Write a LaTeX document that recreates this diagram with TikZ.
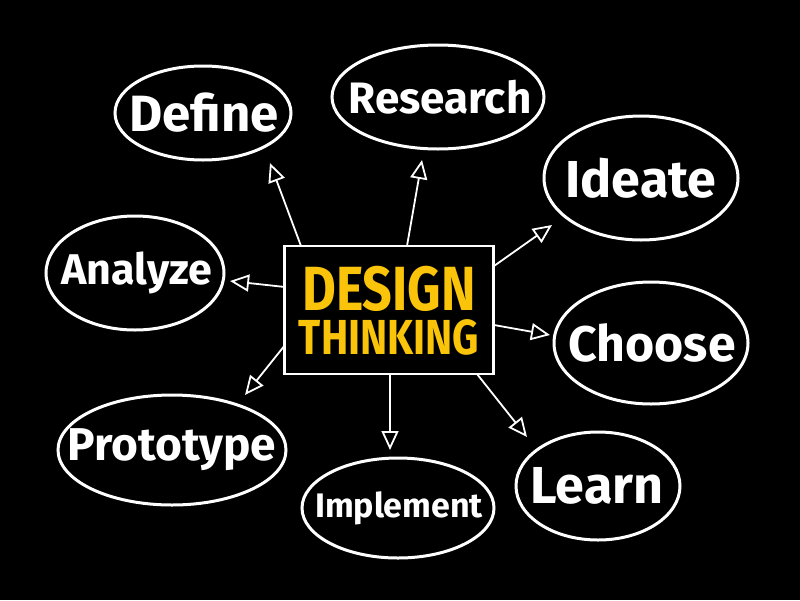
\documentclass[tikz,border=0pt]{standalone}
\usepackage{fontspec}
\setmainfont{Fira Sans}
\usetikzlibrary{arrows.meta}
\definecolor{dtyellow}{RGB}{250,196,10}
\tikzset{
  oval/.style={white, line width=3pt},
  lbl/.style={text=white, font=\bfseries\fontsize{#1}{#1}\selectfont},
  title/.style={text=dtyellow, inner sep=0pt, align=center, font=\bfseries},
  link/.style={draw=white, line width=1.8pt, -{Triangle[open, length=19pt, width=17pt, line width=1.8pt]}},
}
\begin{document}
\begin{tikzpicture}[x=1pt,y=-1pt]
\fill[black] (0,0) rectangle (800,600);
\useasboundingbox (0,0) rectangle (800,600);
% ellipses
\draw[oval] (203,113) ellipse [x radius=88, y radius=47];
\draw[oval] (438,97) ellipse [x radius=106, y radius=52];
\draw[oval] (641,178) ellipse [x radius=97, y radius=62];
\draw[oval] (135,273) ellipse [x radius=89, y radius=57];
\draw[oval] (651,343) ellipse [x radius=97, y radius=61];
\draw[oval] (172,450) ellipse [x radius=114, y radius=55];
\draw[oval] (398,508) ellipse [x radius=96, y radius=50];
\draw[oval] (598,486) ellipse [x radius=82, y radius=54];
% labels
\node[lbl=51] (define) at (204,113) {Define};
\node[lbl=44] (research) at (440,97) {Research};
\node[lbl=52] (ideate) at (641,178) {Ideate};
\node[lbl=43] (analyze) at (137,273) {Analyze};
\node[lbl=50] (choose) at (652,343) {Choose};
\node[lbl=46] (prototype) at (172,450) {Prototype};
\node[lbl=34] (implement) at (399,508) {Implement};
\node[lbl=52] (learn) at (597,486) {Learn};
% centre
\node[draw=white, line width=2.6pt, fill=black, minimum width=209pt, minimum height=128pt, inner sep=0pt] (core) at (389,310) {};
\node[title, yscale=1.2] (title) at (389,311) {\fontsize{52}{44}\selectfont DESIGN\\[6pt]\fontsize{41}{44}\selectfont THINKING};
% arrow endpoints
\coordinate (aD) at (270,163);
\coordinate (aR) at (422,160);
\coordinate (aI) at (552,225);
\coordinate (aA) at (230,281);
\coordinate (aC) at (550,335);
\coordinate (aP) at (245,395);
\coordinate (aM) at (390,450);
\coordinate (aL) at (527,437);
\coordinate (sD) at (301,246);
\coordinate (sR) at (407,246);
\coordinate (sI) at (494,266);
\coordinate (sA) at (285,287);
\coordinate (sC) at (494,325);
\coordinate (sP) at (285,345);
\coordinate (sM) at (390,374);
\coordinate (sL) at (477,374);
\draw[link] (sD) -- (aD);
\draw[link] (sR) -- (aR);
\draw[link] (sI) -- (aI);
\draw[link] (sA) -- (aA);
\draw[link] (sC) -- (aC);
\draw[link] (sP) -- (aP);
\draw[link] (sM) -- (aM);
\draw[link] (sL) -- (aL);
\end{tikzpicture}
\end{document}
